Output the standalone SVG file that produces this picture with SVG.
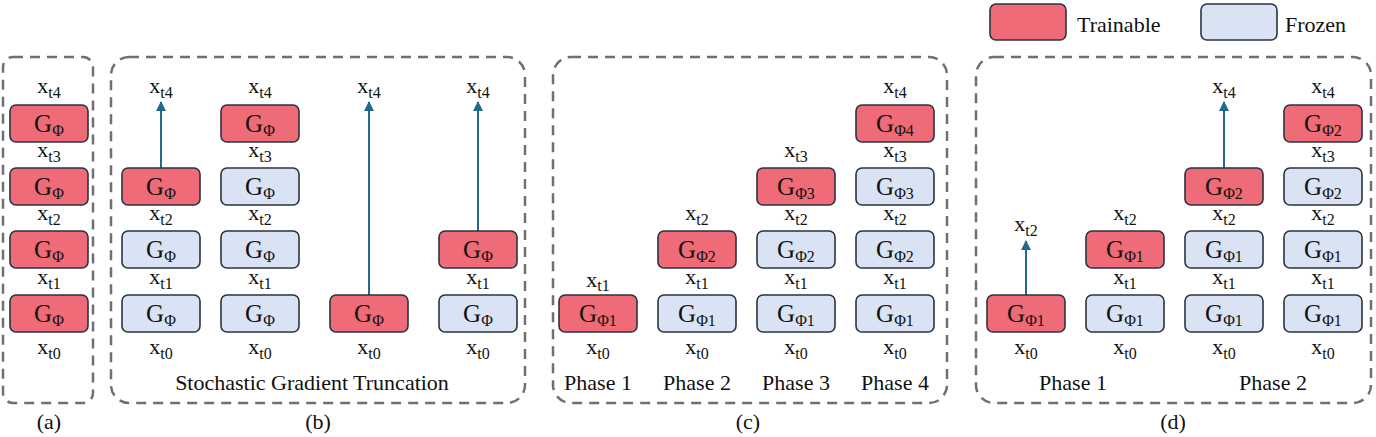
<svg xmlns="http://www.w3.org/2000/svg" width="1376" height="437" viewBox="0 0 1376 437">
<style>
text{font-family:"Liberation Serif","Times New Roman",serif;fill:#111;text-anchor:middle}
.x{font-size:22px}.g{font-size:25px}.s{font-size:16px}.p{font-size:22px}
.r{fill:#EF6B77;stroke:#2a3340;stroke-width:1.6}
.b{fill:#DAE3F3;stroke:#2a3340;stroke-width:1.6}
.pan{fill:none;stroke:#707070;stroke-width:2.5;stroke-dasharray:10 7}
.c{stroke:#1f6a87;stroke-width:2;fill:none;marker-end:url(#ah)}
</style>
<defs>
<marker id="ah" viewBox="0 0 10 10" refX="9" refY="5" markerWidth="5" markerHeight="5" orient="auto"><path d="M0,0L10,5L0,10z" fill="#1f6a87"/></marker>
</defs>
<g id="panels">
<rect class="pan" x="3" y="57" width="90" height="346" rx="10"/>
<rect class="pan" x="111" y="57" width="414" height="346" rx="18"/>
<rect class="pan" x="553" y="57" width="394" height="346" rx="18"/>
<rect class="pan" x="976" y="57" width="395" height="346" rx="18"/>
</g>
<g id="legend">
<rect class="r" x="990" y="4" width="76" height="36" rx="6"/><text x="1077" y="32" class="p" style="text-anchor:start">Trainable</text>
<rect class="b" x="1201" y="4" width="76" height="36" rx="6"/><text x="1285" y="32" class="p" style="text-anchor:start">Frozen</text>
</g>
<g id="connectors">
<line class="c" x1="161" y1="168" x2="161" y2="102"/>
<line class="c" x1="369" y1="295" x2="369" y2="102"/>
<line class="c" x1="478" y1="231" x2="478" y2="102"/>
<line class="c" x1="1026" y1="295" x2="1026" y2="241"/>
<line class="c" x1="1224" y1="168" x2="1224" y2="102"/>
</g>
<g id="nodes-a">
<g id="a1"><rect class="r" x="10" y="105" width="78" height="37" rx="6"/><text class="g" x="49" y="132">G<tspan class="s" dy="4">Φ</tspan></text></g>
<g id="a2"><rect class="r" x="10" y="168" width="78" height="37" rx="6"/><text class="g" x="49" y="195">G<tspan class="s" dy="4">Φ</tspan></text></g>
<g id="a3"><rect class="r" x="10" y="231" width="78" height="37" rx="6"/><text class="g" x="49" y="258">G<tspan class="s" dy="4">Φ</tspan></text></g>
<g id="a4"><rect class="r" x="10" y="295" width="78" height="37" rx="6"/><text class="g" x="49" y="322">G<tspan class="s" dy="4">Φ</tspan></text></g>
<text class="x" x="49" y="93">x<tspan class="s" dy="5">t4</tspan></text>
<text class="x" x="49" y="157">x<tspan class="s" dy="5">t3</tspan></text>
<text class="x" x="49" y="220">x<tspan class="s" dy="5">t2</tspan></text>
<text class="x" x="49" y="284">x<tspan class="s" dy="5">t1</tspan></text>
<text class="x" x="49" y="354">x<tspan class="s" dy="5">t0</tspan></text>
<text class="p" x="49" y="429">(a)</text>
</g>
<g id="nodes-b">
<g id="b1"><rect class="b" x="122" y="295" width="78" height="37" rx="6"/><text class="g" x="161" y="322">G<tspan class="s" dy="4">Φ</tspan></text>
<rect class="b" x="122" y="231" width="78" height="37" rx="6"/><text class="g" x="161" y="258">G<tspan class="s" dy="4">Φ</tspan></text>
<rect class="r" x="122" y="168" width="78" height="37" rx="6"/><text class="g" x="161" y="195">G<tspan class="s" dy="4">Φ</tspan></text>
<text class="x" x="161" y="93">x<tspan class="s" dy="5">t4</tspan></text>
<text class="x" x="161" y="220">x<tspan class="s" dy="5">t2</tspan></text>
<text class="x" x="161" y="284">x<tspan class="s" dy="5">t1</tspan></text>
<text class="x" x="161" y="354">x<tspan class="s" dy="5">t0</tspan></text></g>
<g id="b2"><rect class="b" x="221" y="295" width="78" height="37" rx="6"/><text class="g" x="260" y="322">G<tspan class="s" dy="4">Φ</tspan></text>
<rect class="b" x="221" y="231" width="78" height="37" rx="6"/><text class="g" x="260" y="258">G<tspan class="s" dy="4">Φ</tspan></text>
<rect class="b" x="221" y="168" width="78" height="37" rx="6"/><text class="g" x="260" y="195">G<tspan class="s" dy="4">Φ</tspan></text>
<rect class="r" x="221" y="105" width="78" height="37" rx="6"/><text class="g" x="260" y="132">G<tspan class="s" dy="4">Φ</tspan></text>
<text class="x" x="260" y="93">x<tspan class="s" dy="5">t4</tspan></text>
<text class="x" x="260" y="157">x<tspan class="s" dy="5">t3</tspan></text>
<text class="x" x="260" y="220">x<tspan class="s" dy="5">t2</tspan></text>
<text class="x" x="260" y="284">x<tspan class="s" dy="5">t1</tspan></text>
<text class="x" x="260" y="354">x<tspan class="s" dy="5">t0</tspan></text></g>
<g id="b3"><rect class="r" x="330" y="295" width="78" height="37" rx="6"/><text class="g" x="369" y="322">G<tspan class="s" dy="4">Φ</tspan></text>
<text class="x" x="369" y="93">x<tspan class="s" dy="5">t4</tspan></text>
<text class="x" x="369" y="354">x<tspan class="s" dy="5">t0</tspan></text></g>
<g id="b4"><rect class="b" x="439" y="295" width="78" height="37" rx="6"/><text class="g" x="478" y="322">G<tspan class="s" dy="4">Φ</tspan></text>
<rect class="r" x="439" y="231" width="78" height="37" rx="6"/><text class="g" x="478" y="258">G<tspan class="s" dy="4">Φ</tspan></text>
<text class="x" x="478" y="93">x<tspan class="s" dy="5">t4</tspan></text>
<text class="x" x="478" y="284">x<tspan class="s" dy="5">t1</tspan></text>
<text class="x" x="478" y="354">x<tspan class="s" dy="5">t0</tspan></text></g>
<text class="p" x="312" y="390">Stochastic Gradient Truncation</text>
<text class="p" x="318" y="429">(b)</text>
</g>
<g id="nodes-c">
<g id="c1"><rect class="r" x="559" y="295" width="78" height="37" rx="6"/><text class="g" x="598" y="322">G<tspan class="s" dy="4">Φ1</tspan></text>
<text class="x" x="598" y="287">x<tspan class="s" dy="4">t1</tspan></text>
<text class="x" x="598" y="354">x<tspan class="s" dy="5">t0</tspan></text>
<text class="p" x="598" y="390">Phase 1</text></g>
<g id="c2"><rect class="b" x="658" y="295" width="78" height="37" rx="6"/><text class="g" x="697" y="322">G<tspan class="s" dy="4">Φ1</tspan></text>
<rect class="r" x="658" y="231" width="78" height="37" rx="6"/><text class="g" x="697" y="258">G<tspan class="s" dy="4">Φ2</tspan></text>
<text class="x" x="697" y="220">x<tspan class="s" dy="5">t2</tspan></text>
<text class="x" x="697" y="284">x<tspan class="s" dy="5">t1</tspan></text>
<text class="x" x="697" y="354">x<tspan class="s" dy="5">t0</tspan></text>
<text class="p" x="697" y="390">Phase 2</text></g>
<g id="c3"><rect class="b" x="757" y="295" width="78" height="37" rx="6"/><text class="g" x="796" y="322">G<tspan class="s" dy="4">Φ1</tspan></text>
<rect class="b" x="757" y="231" width="78" height="37" rx="6"/><text class="g" x="796" y="258">G<tspan class="s" dy="4">Φ2</tspan></text>
<rect class="r" x="757" y="168" width="78" height="37" rx="6"/><text class="g" x="796" y="195">G<tspan class="s" dy="4">Φ3</tspan></text>
<text class="x" x="796" y="157">x<tspan class="s" dy="5">t3</tspan></text>
<text class="x" x="796" y="220">x<tspan class="s" dy="5">t2</tspan></text>
<text class="x" x="796" y="284">x<tspan class="s" dy="5">t1</tspan></text>
<text class="x" x="796" y="354">x<tspan class="s" dy="5">t0</tspan></text>
<text class="p" x="796" y="390">Phase 3</text></g>
<g id="c4"><rect class="b" x="856" y="295" width="78" height="37" rx="6"/><text class="g" x="895" y="322">G<tspan class="s" dy="4">Φ1</tspan></text>
<rect class="b" x="856" y="231" width="78" height="37" rx="6"/><text class="g" x="895" y="258">G<tspan class="s" dy="4">Φ2</tspan></text>
<rect class="b" x="856" y="168" width="78" height="37" rx="6"/><text class="g" x="895" y="195">G<tspan class="s" dy="4">Φ3</tspan></text>
<rect class="r" x="856" y="105" width="78" height="37" rx="6"/><text class="g" x="895" y="132">G<tspan class="s" dy="4">Φ4</tspan></text>
<text class="x" x="895" y="93">x<tspan class="s" dy="5">t4</tspan></text>
<text class="x" x="895" y="157">x<tspan class="s" dy="5">t3</tspan></text>
<text class="x" x="895" y="220">x<tspan class="s" dy="5">t2</tspan></text>
<text class="x" x="895" y="284">x<tspan class="s" dy="5">t1</tspan></text>
<text class="x" x="895" y="354">x<tspan class="s" dy="5">t0</tspan></text>
<text class="p" x="895" y="390">Phase 4</text></g>
<text class="p" x="748" y="429">(c)</text>
</g>
<g id="nodes-d">
<g id="d1"><rect class="r" x="987" y="295" width="78" height="37" rx="6"/><text class="g" x="1026" y="322">G<tspan class="s" dy="4">Φ1</tspan></text>
<text class="x" x="1026" y="231">x<tspan class="s" dy="5">t2</tspan></text>
<text class="x" x="1026" y="354">x<tspan class="s" dy="5">t0</tspan></text></g>
<g id="d2"><rect class="b" x="1086" y="295" width="78" height="37" rx="6"/><text class="g" x="1125" y="322">G<tspan class="s" dy="4">Φ1</tspan></text>
<rect class="r" x="1086" y="231" width="78" height="37" rx="6"/><text class="g" x="1125" y="258">G<tspan class="s" dy="4">Φ1</tspan></text>
<text class="x" x="1125" y="220">x<tspan class="s" dy="5">t2</tspan></text>
<text class="x" x="1125" y="284">x<tspan class="s" dy="5">t1</tspan></text>
<text class="x" x="1125" y="354">x<tspan class="s" dy="5">t0</tspan></text></g>
<g id="d3"><rect class="b" x="1185" y="295" width="78" height="37" rx="6"/><text class="g" x="1224" y="322">G<tspan class="s" dy="4">Φ1</tspan></text>
<rect class="b" x="1185" y="231" width="78" height="37" rx="6"/><text class="g" x="1224" y="258">G<tspan class="s" dy="4">Φ1</tspan></text>
<rect class="r" x="1185" y="168" width="78" height="37" rx="6"/><text class="g" x="1224" y="195">G<tspan class="s" dy="4">Φ2</tspan></text>
<text class="x" x="1224" y="93">x<tspan class="s" dy="5">t4</tspan></text>
<text class="x" x="1224" y="220">x<tspan class="s" dy="5">t2</tspan></text>
<text class="x" x="1224" y="284">x<tspan class="s" dy="5">t1</tspan></text>
<text class="x" x="1224" y="354">x<tspan class="s" dy="5">t0</tspan></text></g>
<g id="d4"><rect class="b" x="1284" y="295" width="78" height="37" rx="6"/><text class="g" x="1323" y="322">G<tspan class="s" dy="4">Φ1</tspan></text>
<rect class="b" x="1284" y="231" width="78" height="37" rx="6"/><text class="g" x="1323" y="258">G<tspan class="s" dy="4">Φ1</tspan></text>
<rect class="b" x="1284" y="168" width="78" height="37" rx="6"/><text class="g" x="1323" y="195">G<tspan class="s" dy="4">Φ2</tspan></text>
<rect class="r" x="1284" y="105" width="78" height="37" rx="6"/><text class="g" x="1323" y="132">G<tspan class="s" dy="4">Φ2</tspan></text>
<text class="x" x="1323" y="93">x<tspan class="s" dy="5">t4</tspan></text>
<text class="x" x="1323" y="157">x<tspan class="s" dy="5">t3</tspan></text>
<text class="x" x="1323" y="220">x<tspan class="s" dy="5">t2</tspan></text>
<text class="x" x="1323" y="284">x<tspan class="s" dy="5">t1</tspan></text>
<text class="x" x="1323" y="354">x<tspan class="s" dy="5">t0</tspan></text></g>
<text class="p" x="1073" y="390">Phase 1</text>
<text class="p" x="1273" y="390">Phase 2</text>
<text class="p" x="1173" y="429">(d)</text>
</g>
</svg>
